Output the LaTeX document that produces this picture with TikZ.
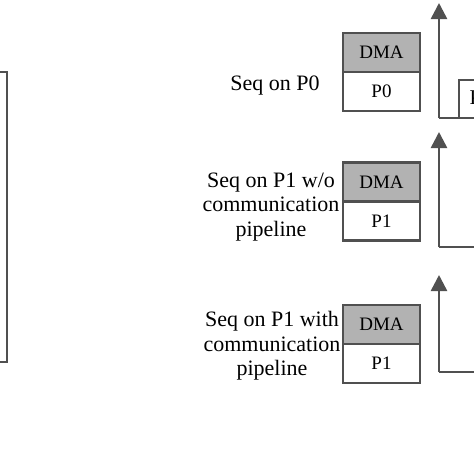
\documentclass[tikz,border=0pt]{standalone}
\usepackage{fontspec}
\setmainfont{Liberation Serif}
\usetikzlibrary{positioning}
\usetikzlibrary{arrows.meta}
\usetikzlibrary{shadows}

\definecolor{linegray}{RGB}{80,80,80}
\definecolor{dmagray}{RGB}{178,178,178}

\begin{document}
\begin{tikzpicture}[x=1pt,y=-1pt,node distance=0pt,
    frame/.style={draw=linegray, line width=2.5pt},
    dmabox/.style={frame, fill=dmagray, minimum width=77pt, minimum height=39pt,
                   inner sep=0pt, outer sep=0pt, font=\fontsize{19}{22}\selectfont},
    procbox/.style={dmabox, fill=white},
    seqlabel/.style={align=center, inner sep=0pt, font=\fontsize{22}{24.5}\selectfont},
    axis/.style={frame, -{Triangle[width=16pt,length=16pt]}}]
    \useasboundingbox (0,0) rectangle (474,474);
    \clip (0,0) rectangle (474,474);

    % left frame, cut by the border
    \node[frame, minimum width=40pt, minimum height=290pt, anchor=north east, outer sep=0pt] (left) at (7,72) {};

    % boxes
    \node[dmabox]                        (dma_0) at (381.5,52.5) {DMA};
    \node[procbox, below=of dma_0]       (p_0)   {P0};
    \node[dmabox]                        (dma_1) at (381.5,182)  {DMA};
    \node[procbox, below=of dma_1]       (p_1)   {P1};
    \node[dmabox]                        (dma_2) at (381.5,324.5) {DMA};
    \node[procbox, below=of dma_2]       (p_2)   {P1};

    % labels
    \node[seqlabel] (seq_0) at (275,86)  {Seq on P0};
    \node[seqlabel] (seq_1) at (271,207) {Seq on P1 w/o\\communication\\pipeline};
    \node[seqlabel] (seq_2) at (272,346) {Seq on P1 with\\communication\\pipeline};

    % time axes
    \coordinate (o_0) at (439,118);  \coordinate (t_0) at (439,3);   \coordinate (e_0) at (480,118);
    \coordinate (o_1) at (439,247);  \coordinate (t_1) at (439,132); \coordinate (e_1) at (480,247);
    \coordinate (o_2) at (439,372);  \coordinate (t_2) at (439,275); \coordinate (e_2) at (480,372);
    \draw[axis] (o_0) -- (t_0);
    \draw[axis] (o_1) -- (t_1);
    \draw[axis] (o_2) -- (t_2);
    \draw[frame] (o_0) -- (e_0);
    \draw[frame] (o_1) -- (e_1);
    \draw[frame] (o_2) -- (e_2);

    % first slot on the P0 time line
    \node[procbox, minimum height=38pt, anchor=north west] (slot_0) at (459,80) {};
    \node[inner sep=0pt, anchor=west, font=\fontsize{21}{24}\selectfont] (slot_0t) at (469.5,98) {P0};
\end{tikzpicture}
\end{document}
